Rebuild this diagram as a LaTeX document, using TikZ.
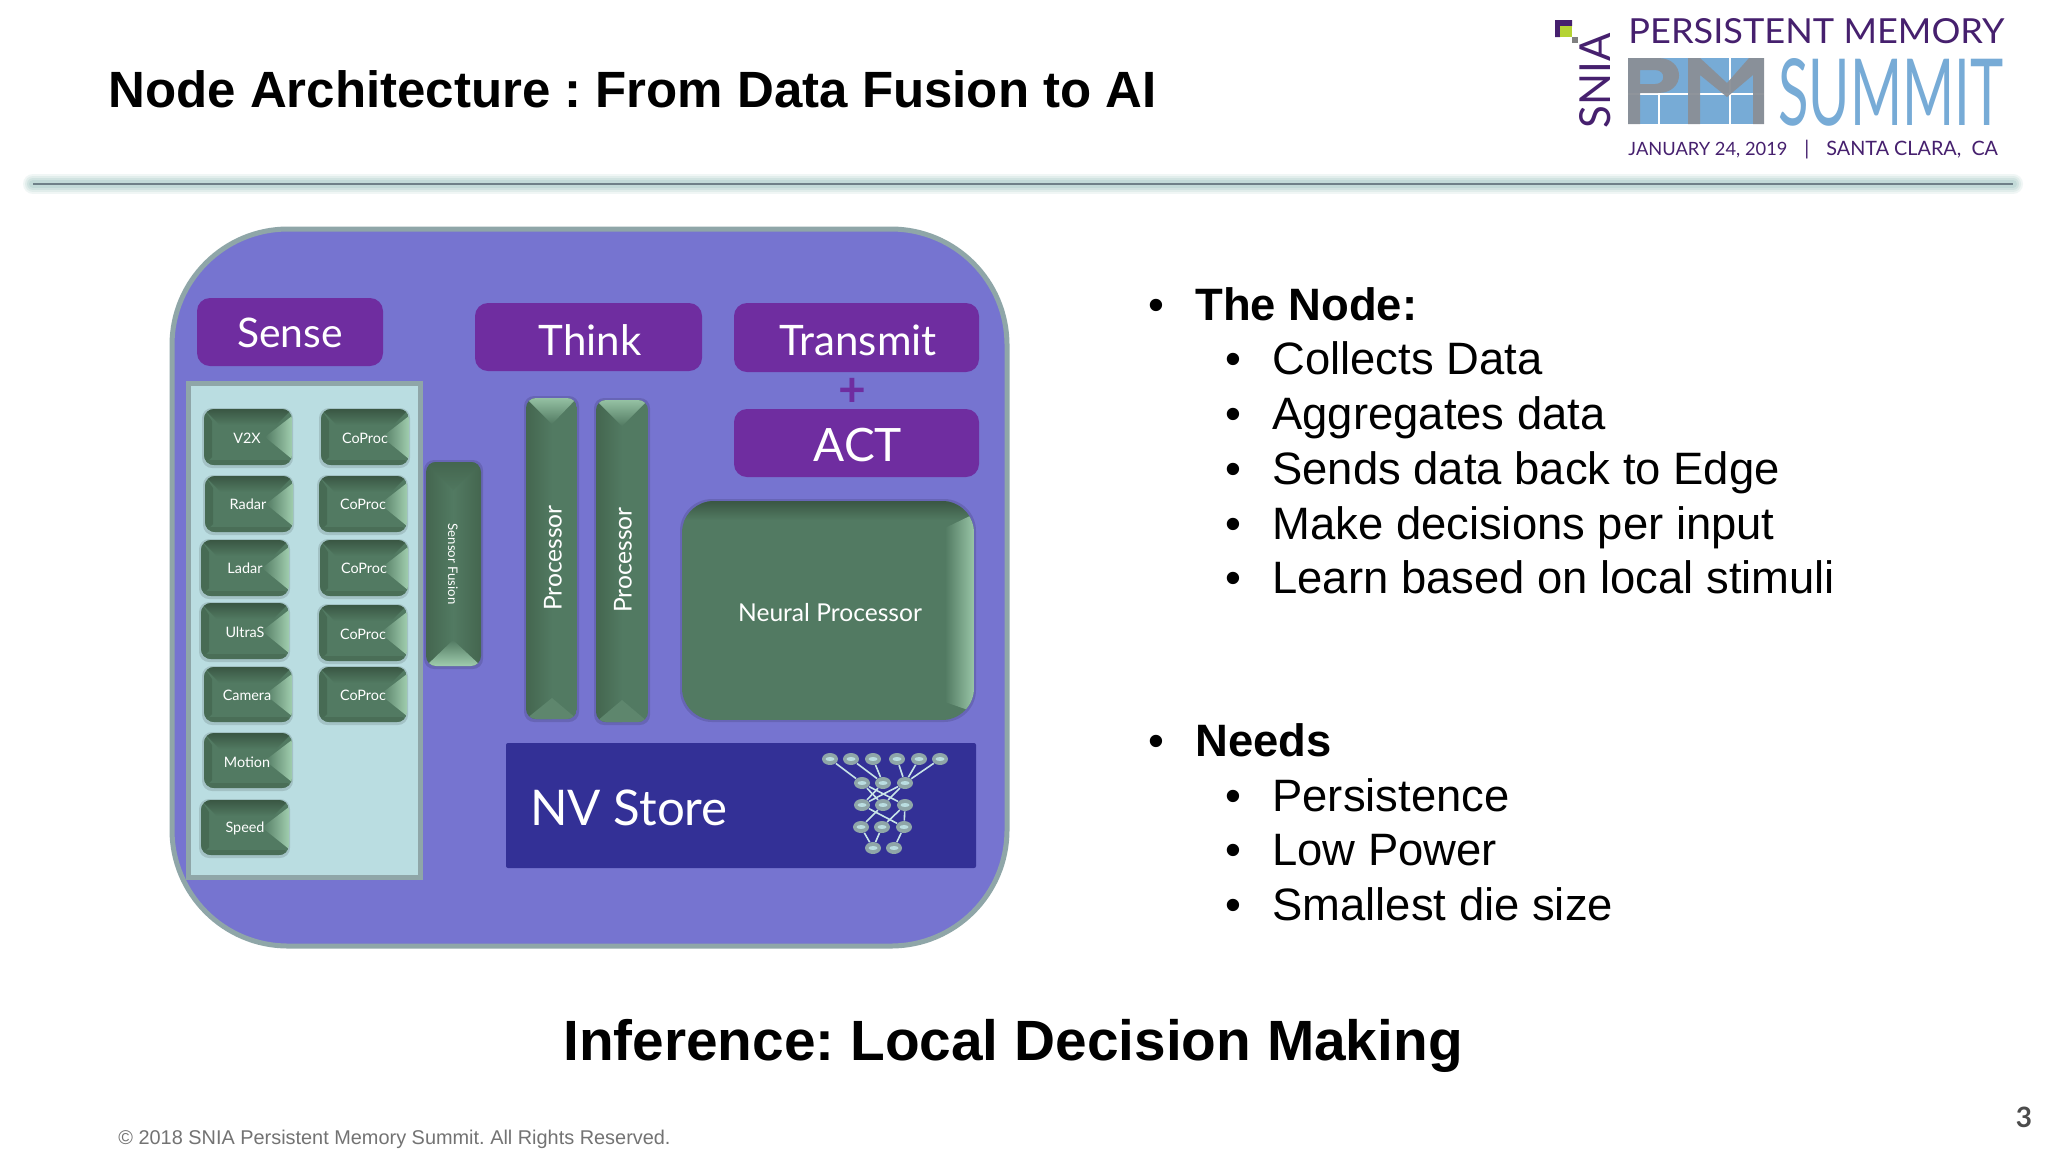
\documentclass[tikz,border=0pt]{standalone}
\usepackage{fontspec}
\setmainfont{Liberation Sans}
\newfontfamily\gill{Lato}
\usetikzlibrary{shapes.geometric}
\definecolor{panel}{HTML}{7674D0}
\definecolor{edge}{HTML}{8FA6A8}
\definecolor{lilac}{HTML}{6F2DA0}
\definecolor{pale}{HTML}{BADDE1}
\definecolor{gmid}{HTML}{527A62}
\definecolor{gdark}{HTML}{44664F}
\definecolor{glight}{HTML}{A0CDAE}
\definecolor{store}{HTML}{333096}
\definecolor{logop}{HTML}{46206E}
\definecolor{logob}{HTML}{77ABD6}
\definecolor{logog}{HTML}{8A8F96}
\definecolor{lime}{HTML}{B5D334}
\definecolor{glow}{HTML}{B5D3D0}
\definecolor{ruleline}{HTML}{6E8088}
\tikzset{
 tag/.style={fill=lilac,rounded corners=6.5pt},
 blab/.style={text=white,font=\gill,inner sep=0pt},
 bul/.style={anchor=base west,inner sep=0pt,font=\fontsize{22.7}{26}\selectfont,text=black},
 nn/.style={ellipse,fill=edge,draw=none,minimum width=8pt,minimum height=6pt,inner sep=0pt},
 nl/.style={draw=pale!80!white,line width=0.8pt},
 logotext/.style={anchor=base west,inner sep=0pt,text=logop,font=\gill},
}
\newcommand{\bevbox}[4]{%
 \fill[black,opacity=.12,rounded corners=5pt] (#1-2,#2-1) rectangle (#3+1,#4+3);
 \begin{scope}
 \clip[rounded corners=5pt] (#1,#2) rectangle (#3,#4);
 \fill[gmid] (#1,#2) rectangle (#3,#4);
 \fill[gdark!75!gmid] (#1,#2) -- (#1+8,#2+12) -- (#1+8,#4-8) -- (#1,#4) -- cycle;
 \shade[top color=gdark!85!black,bottom color=gmid] (#1,#2) -- (#3,#2) -- (#3-16,#2+16) -- (#1+16,#2+16) -- cycle;
 \fill[gdark!60!gmid] (#1,#4) -- (#3,#4) -- (#3-4,#4-5) -- (#1+4,#4-5) -- cycle;
 \shade[left color=gmid,right color=glight] (#3-27,{(#2+#4)/2}) -- (#3,#2+7) -- (#3,#4-6) -- cycle;
 \end{scope}
}
\newcommand{\sensor}[7]{%
 \bevbox{#2}{#3}{#4}{#5}
 \node[blab,font=\gill\fontsize{7.2}{9}\selectfont] (#1) at (#6,#7)}
\begin{document}
\frenchspacing
\begin{tikzpicture}[x=0.5pt,y=-0.5pt]
\useasboundingbox (0,0) rectangle (2048,1152);
\fill[white] (0,0) rectangle (2048,1152);

% header
\node[anchor=base west,inner sep=0pt,font=\bfseries\fontsize{25.5}{30}\selectfont] (title) at (108,107) {Node Architecture : From Data Fusion to AI};
\coordinate (ruleL) at (33,184); \coordinate (ruleR) at (2013,184);
\foreach \w/\o in {10/.2,8/.25,6/.35,4/.5}
 \draw[line width=\w pt,color=glow,opacity=\o,line cap=round] (ruleL) -- (ruleR);
\draw[line width=0.9pt,color=ruleline] (ruleL) -- (ruleR);

% logo
\fill[logop] (1555,20) rectangle (1572,26) (1555,26) rectangle (1560,37);
\fill[lime] (1560,26) rectangle (1572,37);
\fill[gray] (1572,37) rectangle (1578,43);
\node[rotate=90,inner sep=0pt,text=logop,font=\gill] (snia) at (1595.5,80.5) {\resizebox{47.5pt}{15.5pt}{SNIA}};
\node[logotext] (pm1) at (1628,43) {\resizebox{188pt}{12.5pt}{PERSISTENT MEMORY}};
\fill[logob] (1628,58) rectangle (1764,124);
\draw[white,line width=0.8pt] (1628,94) -- (1764,94) (1659,94) -- (1659,124) (1730,58) -- (1730,124);
\fill[logog,opacity=.95,even odd rule] (1628,58) -- (1658,58) .. controls (1686,58) and (1686,93) .. (1658,93) -- (1640,93) -- (1640,124) -- (1628,124) -- cycle
 (1640,70) -- (1655,70) .. controls (1666,70) and (1666,84) .. (1655,84) -- (1640,84) -- cycle;
\fill[logog,opacity=.95] (1688,58) -- (1700,58) -- (1727,83) -- (1749,58) -- (1764,58) -- (1764,124) -- (1753,124) -- (1753,75) -- (1727,97) -- (1700,75) -- (1700,124) -- (1688,124) -- cycle;
\node[anchor=base west,inner sep=0pt,text=logob,font=\gill\fontseries{l}\selectfont] (pm2) at (1778,125) {\resizebox{112.5pt}{33.5pt}{SUMMIT}};
\node[logotext,font=\gill\fontsize{9.15}{11}\selectfont] (pm3) at (1628,155) {JANUARY 24, 2019};
\node[logotext,font=\gill\fontsize{10}{12}\selectfont] (pm4) at (1804,155) {|};
\node[logotext,font=\gill\fontsize{9.9}{12}\selectfont] (pm5) at (1826,155) {SANTA CLARA,\ \ CA};

% panel
\draw[line width=2.5pt,draw=edge,fill=panel,rounded corners=58pt] (172,229) rectangle (1007,946);
\node[tag,minimum width=93pt,minimum height=34pt,inner sep=0pt] (sense) at (290,332) {};
\node[blab,font=\gill\fontsize{20.4}{24}\selectfont] (senset) at (290,333) {Sense};
\node[tag,minimum width=113.5pt,minimum height=34pt,inner sep=0pt] (think) at (588.5,337) {};
\node[blab,font=\gill\fontsize{21}{24}\selectfont] (thinkt) at (590,340) {Think};
\node[tag,minimum width=122.5pt,minimum height=34.5pt,inner sep=0pt] (transmit) at (856.5,337.5) {};
\node[blab,font=\gill\fontsize{21}{24}\selectfont] (transmitt) at (858,340) {Transmit};
\node[tag,minimum width=122.5pt,minimum height=34pt,inner sep=0pt] (act) at (856.5,443) {};
\node[blab,font=\gill\fontsize{23}{24}\selectfont] (actt) at (858,445) {ACT};
\node[text=lilac,inner sep=0pt,font=\gill\bfseries\fontsize{24}{24}\selectfont] (plus) at (852,392) {+};

% sensor tray
\draw[line width=2.5pt,draw=edge,fill=pale] (188,383) rectangle (420,877);

\sensor{v2x}{204}{409}{292}{465}{247}{438}{V2X};
\sensor{cp1}{321}{409}{409}{465}{365}{438}{CoProc};
\sensor{radar}{205}{476}{293}{532}{248}{504}{Radar};
\sensor{cp2}{319}{476}{407}{532}{363}{504}{CoProc};
\sensor{ladar}{201}{540}{289}{596}{245}{568}{Ladar};
\sensor{cp3}{320}{540}{408}{596}{364}{568}{CoProc};
\sensor{ultra}{201}{603}{289}{659}{245}{632}{UltraS};
\sensor{cp4}{319}{605}{407}{661}{363}{634}{CoProc};
\sensor{cam}{204}{667}{292}{722}{247}{695}{Camera};
\sensor{cp5}{319}{667}{407}{722}{363}{695}{CoProc};
\sensor{mot}{204}{733}{292}{788}{247}{762}{Motion};
\sensor{spd}{201}{800}{289}{855}{245}{828}{Speed};

% sensor fusion
\fill[black,opacity=.12,rounded corners=5pt] (424,460) rectangle (483,669);
\begin{scope}
\clip[rounded corners=5pt] (426,462) rectangle (481,666);
\shade[left color=gdark,right color=gmid] (426,462) rectangle (453,666);
\shade[left color=gmid,right color=gdark] (453,462) rectangle (481,666);
\shade[top color=gdark,bottom color=gmid!85!gdark] (426,462) -- (481,462) -- (453,490) -- cycle;
\shade[top color=gmid,bottom color=glight] (453,640) -- (481,666) -- (426,666) -- cycle;
\end{scope}
\node[blab,rotate=-90,font=\gill\fontsize{6.6}{9}\selectfont] (fusion) at (453,564) {Sensor Fusion};

% processors
\fill[black,opacity=.12,rounded corners=5pt] (524,396) rectangle (579,722);
\begin{scope}
\clip[rounded corners=5pt] (526,398) rectangle (577,719);
\shade[left color=gdark,right color=gmid] (526,398) rectangle (552,719);
\fill[gmid] (552,398) rectangle (577,719);
\shade[top color=glight!85!gmid,bottom color=gmid] (526,398) -- (577,398) -- (552,424) -- cycle;
\fill[gmid!85!glight] (526,719) -- (577,719) -- (552,698) -- cycle;
\end{scope}
\node[blab,rotate=90,font=\gill\fontsize{12.3}{16}\selectfont] (proc1) at (553,558) {Processor};
\fill[black,opacity=.12,rounded corners=5pt] (594,398) rectangle (650,725);
\begin{scope}
\clip[rounded corners=5pt] (596,400) rectangle (648,722);
\shade[left color=gdark,right color=gmid] (596,400) rectangle (622,722);
\fill[gmid] (622,400) rectangle (648,722);
\shade[top color=glight!85!gmid,bottom color=gmid] (596,400) -- (648,400) -- (622,426) -- cycle;
\fill[gmid!85!glight] (596,722) -- (648,722) -- (622,700) -- cycle;
\end{scope}
\node[blab,rotate=90,font=\gill\fontsize{12.3}{16}\selectfont] (proc2) at (623,560) {Processor};

% neural processor
\fill[black,opacity=.12,rounded corners=16pt] (680,499) rectangle (976,722);
\begin{scope}
\clip[rounded corners=16pt] (682,501) rectangle (974,720);
\fill[gmid] (682,501) rectangle (974,720);
\shade[top color=gdark!85!black,bottom color=gmid] (682,501) rectangle (974,520);
\shade[left color=gmid,right color=glight!90!gmid] (945,528) -- (974,514) -- (974,712) -- (945,702) -- cycle;
\end{scope}
\node[blab,font=\gill\fontsize{12.3}{14}\selectfont] (neural) at (830,613) {Neural Processor};

% NV store
\node[fill=store,minimum width=235pt,minimum height=62.5pt,inner sep=0pt,rounded corners=1pt] (nv) at (741,805.5) {};
\node[blab,anchor=base west,font=\gill\fontsize{24.6}{26}\selectfont] (nvt) at (530,825) {NV Store};

% network
\foreach \n/\x/\y in {a1/830/759,a2/851/759,a3/873/759,a4/897/759,a5/919/759,a6/940/759,
 b1/862/783,b2/883/783,b3/905/783,c1/862/805,c2/883/805,c3/905/805,
 d1/861/827,d2/882/827,d3/904/827,e1/873/848,e2/894/848}
 \node[nn] (\n) at (\x,\y) {};
\foreach \p/\q in {a1/b1,a2/b2,a3/b2,a4/b3,a5/b3,a6/b3,b1/c3,b1/c2,b2/c1,b3/c1,b3/c2,c1/d3,c2/d1,c3/d2,c3/d3,d1/e1,d2/e1,d3/e2}
 \draw[nl] (\p) -- (\q);
\foreach \n in {a1,a2,a3,a4,a5,a6,b1,b2,b3,c1,c2,c3,d1,d2,d3,e1,e2}
 \fill[pale] (\n) ellipse (4.5 and 2);

% bullets
\foreach \y/\t/\bx/\tx/\b in {
 320/The Node:/1148/1195/1,
 374/Collects Data/1225/1272/0,
 429/Aggregates data/1225/1272/0,
 484/Sends data back to Edge/1225/1272/0,
 539/Make decisions per input/1225/1272/0,
 593/Learn based on local stimuli/1225/1272/0,
 756/Needs/1148/1195/1,
 811/Persistence/1225/1272/0,
 865/Low Power/1225/1272/0,
 920/Smallest die size/1225/1272/0}
{
 \node[bul] at (\bx,\y) {•};
 \ifnum\b=1 \node[bul,font=\bfseries\fontsize{22.7}{26}\selectfont] at (\tx,\y) {\t};
 \else \node[bul] at (\tx,\y) {\t}; \fi
}

% footer
\node[inner sep=0pt,font=\bfseries\fontsize{28.4}{32}\selectfont] (infer) at (1013,1046) {Inference: Local Decision Making};
\node[anchor=base west,inner sep=0pt,text=black!55,font=\fontsize{9.95}{12}\selectfont] (copy) at (118,1144) {© 2018 SNIA Persistent Memory Summit. All Rights Reserved.};
\node[inner sep=0pt,text=black!70,font=\gill\bfseries\fontsize{14}{16}\selectfont] (pg) at (2024,1117) {3};
\end{tikzpicture}
\end{document}
